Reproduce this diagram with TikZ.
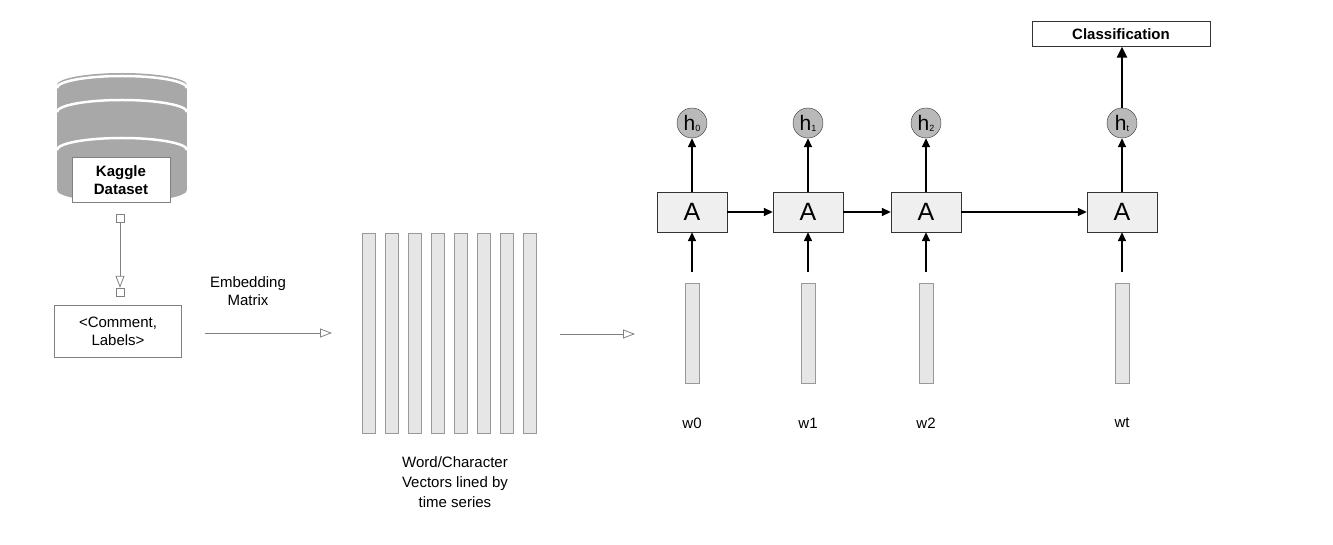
\documentclass[tikz,border=0pt]{standalone}
\usepackage{fontspec}
\setmainfont{Liberation Sans}
\usetikzlibrary{arrows.meta}
\definecolor{dbg}{HTML}{A8A8A8}
\definecolor{barg}{HTML}{E6E6E6}
\definecolor{boxg}{HTML}{EFEFEF}
\begin{document}
\begin{tikzpicture}[x=1pt,y=-1pt,
  bar/.style={draw=gray!80,fill=barg,line width=0.6pt},
  cell/.style={draw=black!80,fill=boxg,minimum width=70pt,minimum height=40pt,inner sep=0pt,font=\fontsize{25}{25}\selectfont},
  hid/.style={circle,draw=black!80,fill=gray!55,minimum size=30pt,inner sep=0pt,font=\fontsize{21}{21}\selectfont},
  arr/.style={-{Triangle[length=9pt,width=8pt]},line width=1.6pt},
  open/.style={-{Triangle[open,length=12pt,width=9pt]},draw=gray,line width=0.8pt},
  sq/.style={draw=gray,fill=white,minimum size=8pt,inner sep=0pt},
  lbl/.style={font=\fontsize{15}{18}\selectfont,align=center}]
\useasboundingbox (0,0) rectangle (1333,545);
% database
\fill[dbg] (57,85) rectangle (187,190);
\fill[dbg] (122,85) ellipse[x radius=65,y radius=12];
\fill[dbg] (122,190) ellipse[x radius=65,y radius=12];
\draw[white,line width=2.5pt] (57,88) arc[x radius=65,y radius=12,start angle=180,end angle=360];
\draw[white,line width=2.5pt] (57,112) arc[x radius=65,y radius=12,start angle=180,end angle=360];
\draw[white,line width=2.5pt] (57,150) arc[x radius=65,y radius=12,start angle=180,end angle=360];
\node[draw=gray,fill=white,minimum width=98pt,minimum height=45pt,align=center,font=\bfseries\fontsize{15}{18}\selectfont] (kag) at (121,180) {Kaggle\\Dataset};
\node[sq] (s1) at (120,218) {};
\node[sq] (s2) at (120,292) {};
\draw[open] (s1) -- (s2);
\node[draw=gray,fill=white,minimum width=127pt,minimum height=52pt,lbl] (com) at (118,331) {<Comment,\\Labels>};
% embedding
\node[lbl] (emb) at (248,291) {Embedding\\Matrix};
\coordinate (e1) at (205,333); \coordinate (e2) at (332,333);
\draw[open] (e1) -- (e2);
\foreach \i in {0,...,7}{
  \draw[bar] (362+23*\i,233) rectangle ++(13,200);
}
\node[lbl,font=\fontsize{15}{20}\selectfont] (wc) at (455,482) {Word/Character\\Vectors lined by\\time series};
\coordinate (f1) at (560,334); \coordinate (f2) at (635,334);
\draw[open] (f1) -- (f2);
% RNN
\foreach \n/\x/\s/\w in {0/692/0/w0,1/808/1/w1,2/926/2/w2,t/1122/t/wt}{
  \node[cell] (A\n) at (\x,212) {A};
  \node[hid] (h\n) at (\x,123) {h\raisebox{-0.1ex}{\fontsize{9}{9}\selectfont\s}};
  \node[bar,minimum width=14pt,minimum height=100pt,inner sep=0pt] (x\n) at (\x,333) {};
  \node[lbl] (l\n) at (\x,423) {\w};
  \draw[arr] ([yshift=11pt]x\n.north) -- (A\n);
  \draw[arr] (A\n) -- (h\n);
}
\draw[arr] (A0) -- (A1);
\draw[arr] (A1) -- (A2);
\draw[arr] (A2) -- (At);
\node[draw=black!80,fill=white,minimum width=178pt,minimum height=25pt,inner sep=0pt,font=\bfseries\fontsize{15}{15}\selectfont] (cls) at (1121,34) {Classification};
\draw[-{Triangle[length=11pt,width=10pt]},line width=2.6pt] (ht.north) -- (ht.north |- cls.south);
\end{tikzpicture}
\end{document}
